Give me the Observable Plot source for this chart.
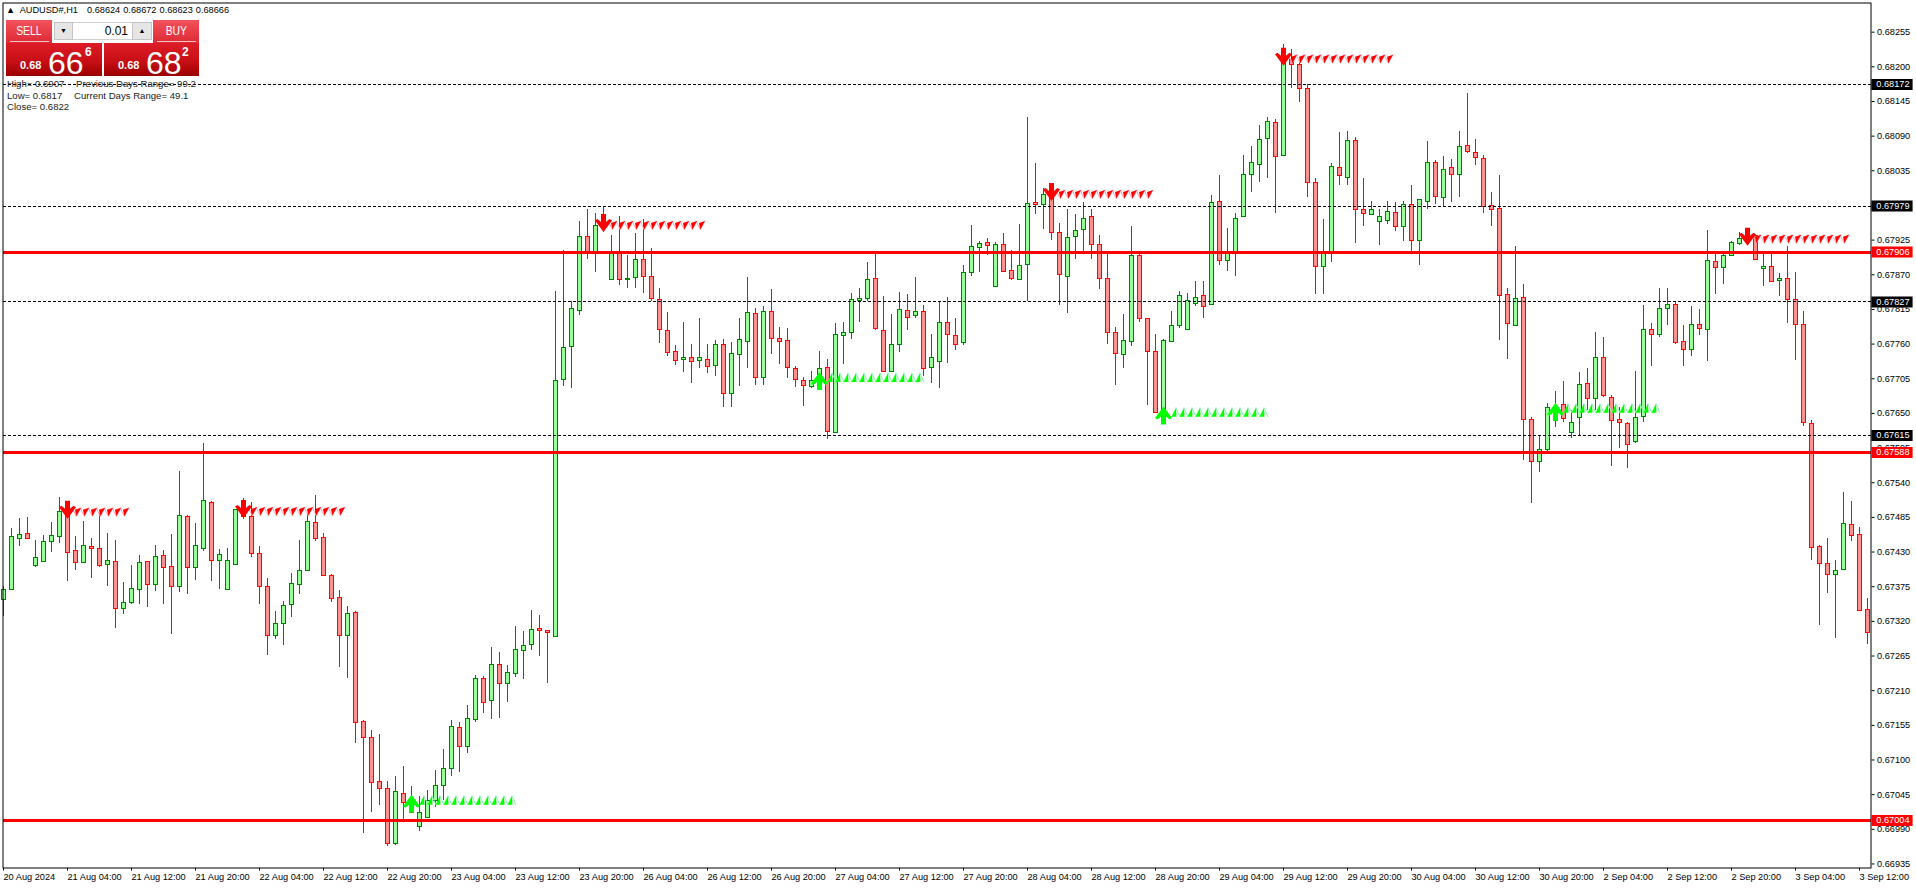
<!DOCTYPE html>
<html><head><meta charset="utf-8">
<script src="https://cdn.jsdelivr.net/npm/d3@7"></script>
<script src="https://cdn.jsdelivr.net/npm/@observablehq/plot@0.6"></script>
<style>
html,body{margin:0;padding:0;background:#fff;overflow:hidden}
#wrap{position:relative;width:1916px;height:888px;font-family:"Liberation Sans",sans-serif;color:#000}
#wrap svg{display:block}
.abs{position:absolute;white-space:pre;line-height:1}
.btn{position:absolute;top:20px;height:23px;width:46px;background:linear-gradient(#f4525c,#dc2a34);color:#fff;font-size:13px;text-align:center;line-height:22px;box-sizing:border-box}
.btn b{display:inline-block;font-weight:normal;transform:scaleX(.8)}
.btn i{position:absolute;left:4px;right:3px;bottom:1px;height:1px;background:#fff;opacity:.7}
.quote{position:absolute;top:43px;height:33px;background:linear-gradient(#dd1c26 0%,#c80f16 55%,#9c0000 100%);color:#fff}
.grey{position:absolute;top:22px;height:18px;background:#e6e6e6;border:1px solid #c4c4c4;box-sizing:border-box;font-size:7px;line-height:16px;text-align:center}
</style></head><body>
<div id="wrap">
<div id="chart"></div>
<div class="abs" style="left:6px;top:5.5px;font-size:9.2px">▲  AUDUSD#,H1</div>
<div class="abs" style="left:87px;top:5.5px;font-size:9.2px;word-spacing:0.5px">0.68624 0.68672 0.68623 0.68666</div>
<div class="btn" style="left:6px"><b>SELL</b><i></i></div>
<div class="abs" style="left:53px;top:21px;width:100px;height:21px;background:#fff"></div>
<div class="abs" style="left:73px;top:22px;width:59px;height:18px;background:#fff;border:1px solid #d0d0d0;border-width:1px 0;box-sizing:border-box"></div>
<div class="grey" style="left:54px;width:19px">▼</div>
<div class="abs" style="left:100px;top:25px;width:28px;text-align:right;font-size:12px">0.01</div>
<div class="grey" style="left:132px;width:20px">▲</div>
<div class="btn" style="left:153px"><b>BUY</b><i></i></div>
<div class="quote" style="left:6px;width:96px"></div>
<div class="quote" style="left:104px;width:95px"></div>
<div class="abs" style="left:20px;top:60px;font-size:11px;font-weight:bold;color:#fff">0.68</div>
<div class="abs" style="left:48px;top:47px;font-size:32px;color:#fff">66</div>
<div class="abs" style="left:85px;top:46px;font-size:12px;font-weight:bold;color:#fff">6</div>
<div class="abs" style="left:118px;top:60px;font-size:11px;font-weight:bold;color:#fff">0.68</div>
<div class="abs" style="left:146px;top:47px;font-size:32px;color:#fff">68</div>
<div class="abs" style="left:182px;top:46px;font-size:12px;font-weight:bold;color:#fff">2</div>
<div class="abs" style="left:7px;top:79px;font-size:9.6px;color:#222">High= 0.6907</div>
<div class="abs" style="left:76px;top:79px;font-size:9.6px;color:#222">Previous Days Range= 99.2</div>
<div class="abs" style="left:7px;top:91px;font-size:9.6px;color:#222">Low= 0.6817</div>
<div class="abs" style="left:74px;top:91px;font-size:9.6px;color:#222">Current Days Range= 49.1</div>
<div class="abs" style="left:7px;top:102px;font-size:9.6px;color:#222">Close= 0.6822</div>
</div>
<script>
// Prices are in units of 0.00001
const directions =
 "GGGRGGGGRR"+"GRRGRGGGRG"+"RRGRGGRGGG"+"RRRRGGGGGR"+"RRRGRRRRRG"+"RRGGGGGRGG"+"RGRGGGGRRG"+"GGGRGGGRGG"+
 "RRRRRGRGRG"+"RGGGRGRRRR"+"RGGRGGGGGR"+"RGGRGRGGRR"+"GGGRGRRGGR"+"GRRGGGRRRR"+"GGRRRGGGGG"+"RGRGGGGGGR"+
 "GRRRRGGRGR"+"RGGGRGRGGR"+"GRGRRRRRRG"+"RRGGGRGGRG"+"RRRRGGRGGR"+"RGRGRGGGGR"+"GRGRRRRRRG"+"GRRR";
const bodyTops = [
67370,67454,67458,67459,67421,67447,67456,67494,67494,67432,
67440,67439,67435,67416,67415,67350,67372,67413,67415,67423,
67424,67407,67488,67486,67440,67512,67509,67426,67416,67497,
67498,67486,67427,67375,67316,67345,67380,67400,67478,67477,
67453,67393,67358,67332,67334,67161,67135,67066,67055,67050,
67047,67033,67016,67035,67059,67086,67153,67151,67166,67229,
67229,67251,67251,67239,67275,67281,67307,67308,67305,67703,
67755,67817,67931,67931,67948,67959,67905,67907,67864,67894,
67894,67867,67831,67782,67748,67739,67738,67738,67736,67760,
67760,67745,67768,67810,67809,67812,67812,67769,67765,67722,
67703,67703,67722,67723,67776,67779,67831,67832,67863,67864,
67782,67760,67815,67813,67812,67811,67739,67795,67795,67774,
67874,67915,67920,67921,67918,67918,67877,67885,67983,67985,
67997,67996,67937,67929,67940,67959,67962,67918,67864,67779,
67765,67901,67901,67801,67749,67766,67790,67837,67829,67834,
67837,67985,67986,67905,67959,68029,68048,68085,68113,68112,
68215,68212,68204,68166,68016,67905,68042,68040,68083,68083,
67974,67974,67962,67970,67969,67982,67982,67990,68048,68048,
68037,68040,68074,68075,68064,68055,67980,67975,67839,67832,
67834,67640,67593,67659,67659,67664,67636,67696,67697,67739,
67739,67675,67640,67634,67643,67783,67783,67816,67823,67823,
67764,67791,67791,67893,67891,67901,67921,67928,67930,67932,
67883,67883,67864,67864,67831,67791,67634,67439,67412,67401,
67475,67474,67458,67339];
const bodyBottoms = [
67354,67370,67452,67452,67408,67415,67447,67454,67430,67414,
67413,67435,67408,67410,67340,67340,67350,67370,67378,67378,
67405,67375,67376,67405,67405,67436,67416,67416,67370,67410,
67486,67427,67375,67297,67297,67317,67346,67378,67400,67451,
67392,67356,67297,67298,67160,67135,67065,67054,66967,66967,
67033,67016,66994,67008,67035,67059,67087,67121,67121,67165,
67192,67194,67222,67221,67238,67273,67283,67306,67302,67296,
67704,67756,67814,67905,67905,67946,67863,67863,67863,67866,
67867,67832,67783,67747,67734,67735,67732,67734,67724,67726,
67681,67681,67743,67764,67707,67707,67769,67764,67723,67704,
67694,67693,67703,67621,67620,67774,67779,67829,67832,67784,
67716,67716,67759,67803,67805,67721,67723,67732,67775,67760,
67762,67873,67913,67916,67851,67876,67864,67862,67886,67981,
67981,67937,67870,67868,67930,67942,67918,67864,67778,67745,
67743,67764,67800,67748,67651,67651,67764,67789,67783,67825,
67819,67823,67892,67892,67905,67962,68029,68045,68086,68057,
68059,68204,68166,68016,67883,67883,67905,68027,68025,67974,
67967,67966,67955,67956,67946,67946,67925,67924,67986,67994,
67992,68029,68029,68065,68056,67979,67974,67837,67792,67789,
67640,67573,67573,67593,67639,67642,67619,67643,67673,67673,
67679,67638,67635,67601,67605,67645,67775,67775,67816,67762,
67752,67752,67785,67783,67882,67882,67901,67919,67928,67895,
67880,67860,67861,67831,67791,67636,67438,67412,67394,67394,
67402,67456,67338,67303];
const highs = [
67375,67468,67484,67485,67449,67457,67477,67517,67496,67455,
67479,67452,67491,67460,67449,67382,67409,67425,67415,67441,
67433,67458,67558,67488,67476,67602,67511,67434,67435,67497,
67515,67508,67439,67388,67336,67352,67396,67449,67491,67520,
67460,67394,67369,67344,67335,67162,67147,67141,67066,67074,
67090,67058,67042,67052,67084,67117,67163,67160,67187,67234,
67233,67279,67271,67250,67312,67304,67337,67330,67305,67844,
67909,67828,67955,67974,67967,67978,67933,67962,67900,67936,
67957,67911,67849,67810,67758,67795,67760,67800,67759,67765,
67768,67763,67800,67865,67817,67820,67847,67786,67784,67725,
67707,67717,67748,67736,67792,67794,67841,67849,67890,67904,
67836,67807,67842,67838,67866,67821,67776,67828,67834,67801,
67885,67949,67923,67928,67921,67936,67909,67950,68120,68047,
68007,68000,67951,67974,67965,67985,67974,67933,67904,67786,
67807,67947,67904,67801,67776,67768,67812,67844,67840,67860,
67860,67996,68028,67943,67968,68060,68074,68107,68119,68117,
68236,68228,68210,68172,68022,67957,68047,68096,68098,68088,
68022,67987,67974,67987,67985,67987,68011,67990,68082,68052,
68057,68053,68098,68157,68085,68060,68001,68028,67849,67915,
67855,67643,67615,67666,67684,67700,67654,67715,67722,67778,
67771,67678,67660,67636,67717,67822,67792,67849,67849,67826,
67790,67820,67815,67941,67904,67905,67923,67937,67935,67932,
67904,67904,67872,67915,67874,67812,67638,67440,67452,67417,
67525,67511,67469,67357];
const lows = [
67327,67370,67439,67451,67406,67414,67430,67444,67384,67401,
67413,67388,67406,67376,67309,67331,67346,67346,67342,67368,
67347,67299,67366,67363,67385,67431,67384,67370,67370,67410,
67482,67422,67346,67266,67292,67282,67326,67363,67400,67446,
67392,67350,67246,67230,67126,66984,67017,67028,66963,66965,
67004,67015,66986,67008,67025,67036,67074,67080,67111,67159,
67173,67165,67166,67192,67231,67228,67274,67265,67222,67296,
67692,67690,67805,67895,67873,67937,67863,67853,67848,67848,
67841,67828,67761,67741,67726,67715,67697,67721,67714,67708,
67659,67659,67692,67721,67694,67694,67743,67727,67705,67691,
67661,67689,67690,67608,67620,67727,67767,67795,67827,67782,
67715,67716,67746,67781,67800,67708,67697,67689,67729,67750,
67757,67868,67874,67901,67851,67874,67861,67861,67827,67965,
67942,67924,67822,67808,67895,67904,67895,67847,67760,67695,
67721,67756,67794,67662,67651,67651,67762,67784,67783,67819,
67801,67821,67885,67875,67867,67962,68001,68017,68022,67968,
68059,68166,68144,67992,67838,67838,67889,68012,68012,67920,
67946,67966,67917,67950,67939,67923,67905,67885,67973,67982,
67978,67985,67993,68062,68044,67968,67946,67766,67736,67789,
67575,67507,67556,67589,67627,67635,67610,67615,67655,67654,
67676,67565,67594,67562,67603,67635,67724,67770,67790,67760,
67724,67741,67773,67733,67839,67855,67901,67917,67925,67893,
67852,67857,67835,67793,67734,67629,67417,67314,67365,67293,
67402,67446,67338,67284];

const timeLabels = ["20 Aug 2024","21 Aug 04:00","21 Aug 12:00","21 Aug 20:00","22 Aug 04:00","22 Aug 12:00","22 Aug 20:00","23 Aug 04:00","23 Aug 12:00","23 Aug 20:00","26 Aug 04:00","26 Aug 12:00","26 Aug 20:00","27 Aug 04:00","27 Aug 12:00","27 Aug 20:00","28 Aug 04:00","28 Aug 12:00","28 Aug 20:00","29 Aug 04:00","29 Aug 12:00","29 Aug 20:00","30 Aug 04:00","30 Aug 12:00","30 Aug 20:00","2 Sep 04:00","2 Sep 12:00","2 Sep 20:00","3 Sep 04:00","3 Sep 12:00"];
const barsPerLabel = 8;
const priceTicks = [66935,66990,67045,67100,67155,67210,67265,67320,67375,67430,67485,67540,67595,67650,67705,67760,67815,67870,67925,67980,68035,68090,68145,68200,68255];
const dashedLevels = [68172,67979,67827,67615];
const redLevels = [67906,67588,67004];

const sellBars = [8,30,75,131,160,218];
const sellPrices = [67494,67495,67949,67998,68213,67927];
const sellLastBars = [15,42,87,143,173,230];
const buyBars = [51,102,145,194];
const buyPrices = [67036,67707,67652,67658];
const buyLastBars = [63,114,157,206];

const P = v => v / 1e5;
const GREEN = "#008000", GREEN_FILL = "#99ff99", RED = "#ff0000", RED_FILL = "#ff9090";
const rows = bodyTops.map((t, i) => ({i, top: P(t), bottom: P(bodyBottoms[i]), high: P(highs[i]), low: P(lows[i]), up: directions[i] === "G"}));
const ups = rows.filter(d => d.up), downs = rows.filter(d => !d.up);

const wedges = (bars, prices, lasts) => bars.flatMap((b, k) => d3.range(b + 1, lasts[k] + 1).map(i => ({i, price: P(prices[k])})));
const sellWedges = wedges(sellBars, sellPrices, sellLastBars);
const buyWedges = wedges(buyBars, buyPrices, buyLastBars);
const sellArrows = sellBars.map((i, k) => ({i, price: P(sellPrices[k])}));
const buyArrows = buyBars.map((i, k) => ({i, price: P(buyPrices[k])}));

const poly = pts => ({draw(c) { pts.forEach(([x, y], j) => j ? c.lineTo(x, y) : c.moveTo(x, y)); c.closePath(); }});
const open = pts => ({draw(c) { pts.forEach(([x, y], j) => j ? c.lineTo(x, y) : c.moveTo(x, y)); }});
const downArrow = poly([[-2.5,-11],[2.5,-11],[2.5,-3],[6,-6],[8.5,-4.5],[0,7],[-8.5,-4.5],[-6,-6],[-2.5,-3]]);
const upArrow = poly([[-2.5,12.4],[2.5,12.4],[2.5,4.4],[6,7.4],[8.5,5.9],[0,-5.6],[-8.5,5.9],[-6,7.4],[-2.5,4.4]]);
const redWedge = poly([[-0.5,-2],[5.5,-4],[0.8,4.5]]);
const redHalo = open([[-3.5,-4],[0.8,4.5],[5.5,-4]]);
const greenWedge = poly([[0,4.5],[4.5,-4.5],[5,4.5]]);
const greenHalo = open([[4.5,-4.5],[8.5,4.5]]);
const vec = (data, shape, o) => Plot.vector(data, {x: "i", y: "price", anchor: "start", length: 1, shape, strokeLinejoin: "miter", ...o});

const tagRows = [
  ...dashedLevels.map(v => ({price: P(v), box: "#000"})),
  ...redLevels.map(v => ({price: P(v), box: "#ff0000"}))
];

const chart = Plot.plot({
  width: 1916, height: 888,
  marginLeft: 2.5, marginRight: 45.5, marginTop: 2.5, marginBottom: 20.5,
  style: {fontFamily: "'Liberation Sans', sans-serif", fontSize: "9.2px", background: "#fff", color: "#000"},
  x: {type: "linear", domain: [-0.0625, 233.4375], axis: null},
  y: {type: "linear", domain: [0.669286, 0.683013], axis: null},
  marks: [
    Plot.axisX({anchor: "bottom", ticks: timeLabels.map((_, k) => k * barsPerLabel), tickFormat: d => timeLabels[d / barsPerLabel], tickSize: 3, tickPadding: 2, textAnchor: "start", label: null, fontSize: 9.2}),
    Plot.axisY({anchor: "right", ticks: priceTicks.map(P), tickFormat: d => d.toFixed(5), tickSize: 3, tickPadding: 3, label: null, fontSize: 9.2}),
    Plot.ruleX(ups, {x: "i", y1: "low", y2: "high", stroke: GREEN, strokeWidth: 1, shapeRendering: "crispEdges"}),
    Plot.ruleX(downs, {x: "i", y1: "low", y2: "high", stroke: RED, strokeWidth: 1, shapeRendering: "crispEdges"}),
    Plot.rect(ups, {x1: d => d.i - 0.25, x2: d => d.i + 0.25, y1: "bottom", y2: "top", fill: GREEN_FILL, stroke: GREEN, strokeWidth: 1, dx: 0.5, dy: 0.5, shapeRendering: "crispEdges"}),
    Plot.rect(downs, {x1: d => d.i - 0.25, x2: d => d.i + 0.25, y1: "bottom", y2: "top", fill: RED_FILL, stroke: RED, strokeWidth: 1, dx: 0.5, dy: 0.5, shapeRendering: "crispEdges"}),
    Plot.ruleY(dashedLevels.map(P), {stroke: "#000", strokeWidth: 1, strokeDasharray: "3 2", shapeRendering: "crispEdges"}),
    Plot.ruleY(redLevels.map(P), {stroke: "#ff0000", strokeWidth: 3, shapeRendering: "crispEdges"}),
    vec(sellWedges, redHalo, {stroke: "#ffa0b0", strokeWidth: 1, fill: "none"}),
    vec(sellWedges, redWedge, {fill: "#ff0000", stroke: "none"}),
    vec(buyWedges, greenHalo, {stroke: "#80ffb0", strokeWidth: 1, fill: "none"}),
    vec(buyWedges, greenWedge, {fill: "#00ff00", stroke: "none"}),
    vec(sellArrows, downArrow, {fill: "#ff0000", stroke: "none"}),
    vec(buyArrows, upArrow, {fill: "#00ff00", stroke: "none"}),
    Plot.frame({stroke: "#000", strokeWidth: 1}),
    Plot.ruleY(tagRows, {y: "price", x1: () => 233.55, x2: () => 238.7, stroke: "box", strokeWidth: 11}),
    Plot.text(tagRows, {y: "price", x: () => 234.1, text: d => d.price.toFixed(5), textAnchor: "start", fill: "#fff", fontSize: 9.2})
  ]
});
document.getElementById("chart").appendChild(chart);
</script>
</body></html>
